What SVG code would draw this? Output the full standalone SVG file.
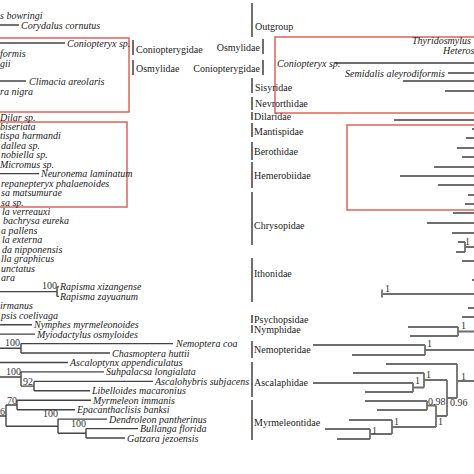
<svg xmlns="http://www.w3.org/2000/svg" width="474" height="474" viewBox="0 0 474 474">
<style>
.sp{font-family:"Liberation Serif","Times New Roman",serif;font-style:italic;font-size:10px;fill:#222}
.fam{font-family:"Liberation Serif","Times New Roman",serif;font-size:10px;fill:#222}
.bs{font-family:"Liberation Serif","Times New Roman",serif;font-size:10px;fill:#333}
.lt{stroke:#444;stroke-width:1.4;fill:none}
.rt{stroke:#6e6e6e;stroke-width:1.8;fill:none}
.bar{stroke:#333;stroke-width:1.4}
.box{fill:none;stroke:#e0625a;stroke-width:1.5}
</style>
<rect width="474" height="474" fill="#fff"/>

<g id="connectors-left">
<path class="lt" d="M0 25H19M0 43H65M0 81H26M0 173.6H39M0 291.6H57M57 286.9V296.4M57 286.9H59M57 296.4H59M0 324.7H32M0 334.1H35"/>
<path class="lt" d="M0 348.3H21M21 343.6V353M21 343.6H173M21 353H110M0 362.5H68"/>
<path class="lt" d="M0 377H21M21 371.9V386.1M21 371.9H104M21 386.1H34M34 381.4V390.8M34 381.4H153M34 390.8H90"/>
<path class="lt" d="M0 416H6M6 405V426.2M6 405H17M17 400.2V409.7M17 400.2H91M17 409.7H75M6 426.2H58M58 419.1V433.3M58 419.1H107M58 433.3H86M86 428.6V438M86 428.6H138M86 438H125"/>
</g>

<g id="connectors-right">
<path class="rt" d="M335 63H474M448 73H474M403 81H474M445 91H474M394 120H474"/>
<path class="rt" d="M472 129H474M466 138H474M457 148H474M462 157H474M434 167H474M400 176H474M438 185H474M468 195H474M465 204H474"/>
<path class="rt" d="M453 213H474M427 223H474M452 233H474M458 242H465M456 252H465M465 242V252M465 247H474M462 261H474M472 280H474"/>
<path class="rt" d="M382 289.5V297.5M383 294H474M468 308H474M462 317H474M408 327H458M410 336H458M458 327V336M458 331.5H474"/>
<path class="rt" d="M313 345H425M352 355H425M425 345V355M425 350H474"/>
<path class="rt" d="M386 364H457M353 373H424M313 383H413M365 392H413M413 383V392M413 387.5H424M424 373V387.5M424 380H447"/>
<path class="rt" d="M365 401H427M377 410H427M427 401V410M427 405.5H436M349 420H392M325 429H370M337 439H370M370 429V439M370 434H392M392 420V434M392 427H436M436 405.5V427M436 416H447M447 380V416M447 398H457M457 364V398M457 381H474"/>
</g>

<g id="boxes">
<rect class="box" x="-5" y="38" width="134" height="74"/>
<rect class="box" x="-5" y="122" width="132" height="85"/>
<rect class="box" x="275" y="37" width="205" height="76"/>
<rect class="box" x="347" y="125" width="133" height="85"/>
</g>

<g id="left-taxa">
<text class="sp" x="0" y="18.5">s bowringi</text>
<text class="sp" x="21" y="28.5">Corydalus cornutus</text>
<text class="sp" x="67" y="46.5">Coniopteryx sp.</text>
<text class="sp" x="0" y="56.5">formis</text>
<text class="sp" x="0" y="66.5">gii</text>
<text class="sp" x="29" y="84.5">Climacia areolaris</text>
<text class="sp" x="0" y="94.5">ra nigra</text>
<text class="sp" x="0" y="120.5">Dilar sp.</text>
<text class="sp" x="0" y="129.9">biseriata</text>
<text class="sp" x="0" y="139.4">tispa harmandi</text>
<text class="sp" x="1" y="148.8">dallea sp.</text>
<text class="sp" x="1" y="158.3">nobiella sp.</text>
<text class="sp" x="0" y="167.7">Micromus sp.</text>
<text class="sp" x="41" y="177.1">Neuronema laminatum</text>
<text class="sp" x="1" y="186.6">repanepteryx phalaenoides</text>
<text class="sp" x="1" y="196">sa matsumurae</text>
<text class="sp" x="1" y="205.5">sa sp.</text>
<text class="sp" x="2" y="214.9">la verreauxi</text>
<text class="sp" x="3" y="224.4">bachrysa eureka</text>
<text class="sp" x="1" y="233.8">a pallens</text>
<text class="sp" x="2" y="243.3">la externa</text>
<text class="sp" x="2" y="252.7">da nipponensis</text>
<text class="sp" x="1" y="262.1">lla graphicus</text>
<text class="sp" x="1" y="271.5">unctatus</text>
<text class="sp" x="1" y="281">ara</text>
<text class="sp" x="60" y="290.4">Rapisma xizangense</text>
<text class="sp" x="60" y="299.9">Rapisma zayuanum</text>
<text class="sp" x="0" y="309.3">irmanus</text>
<text class="sp" x="1" y="318.7">psis coelivaga</text>
<text class="sp" x="34" y="328.2">Nymphes myrmeleonoides</text>
<text class="sp" x="37" y="337.6">Myiodactylus osmyloides</text>
<text class="sp" x="176" y="347.1">Nemoptera coa</text>
<text class="sp" x="112" y="356.5">Chasmoptera huttii</text>
<text class="sp" x="70" y="366">Ascaloptynx appendiculatus</text>
<text class="sp" x="106" y="375.4">Suhpalacsa longialata</text>
<text class="sp" x="155" y="384.9">Ascalohybris subjacens</text>
<text class="sp" x="92" y="394.3">Libelloides macaronius</text>
<text class="sp" x="93" y="403.7">Myrmeleon immanis</text>
<text class="sp" x="77" y="413.2">Epacanthaclisis banksi</text>
<text class="sp" x="109" y="422.6">Dendroleon pantherinus</text>
<text class="sp" x="140" y="432.1">Bullanga florida</text>
<text class="sp" x="127" y="441.5">Gatzara jezoensis</text>
</g>

<g id="left-support">
<text class="bs" x="42" y="289">100</text>
<text class="bs" x="5" y="346">100</text>
<text class="bs" x="6" y="375">100</text>
<text class="bs" x="23" y="384.5">92</text>
<text class="bs" x="7" y="403.5">70</text>
<text class="bs" x="0" y="415">6</text>
<text class="bs" x="43" y="417">100</text>
<text class="bs" x="71" y="427">100</text>
</g>

<g id="right-taxa">
<text class="sp" x="412" y="43.5">Thyridosmylus</text>
<text class="sp" x="443" y="53.5">Heteros</text>
<text class="sp" x="277" y="66.5">Coniopteryx sp.</text>
<text class="sp" x="345" y="76.5">Semidalis aleyrodiformis</text>
</g>

<g id="right-support">
<text class="bs" x="465" y="245">1</text>
<text class="bs" x="385" y="292">1</text>
<text class="bs" x="461" y="329">1</text>
<text class="bs" x="427" y="347">1</text>
<text class="bs" x="415" y="384">1</text>
<text class="bs" x="426" y="378">1</text>
<text class="bs" x="428" y="405">0.98</text>
<text class="bs" x="450" y="406">0.96</text>
<text class="bs" x="461" y="380">1</text>
<text class="bs" x="438" y="425">1</text>
<text class="bs" x="394" y="425">1</text>
<text class="bs" x="372" y="434">1</text>
</g>

<g id="families">
<g id="f-outgroup"><line class="bar" x1="252" y1="3" x2="252" y2="37"/><text class="fam" x="255" y="29.5">Outgroup</text></g>
<g id="f-conio-left"><line class="bar" x1="133" y1="40" x2="133" y2="55"/><text class="fam" x="136" y="52.5">Coniopterygidae</text></g>
<g id="f-osmy-left"><line class="bar" x1="133" y1="60" x2="133" y2="75"/><text class="fam" x="136" y="71.5">Osmylidae</text></g>
<g id="f-osmy-right"><line class="bar" x1="263" y1="39" x2="263" y2="54"/><text class="fam" x="260" y="50.5" text-anchor="end">Osmylidae</text></g>
<g id="f-conio-right"><line class="bar" x1="263" y1="60" x2="263" y2="75"/><text class="fam" x="260" y="71.5" text-anchor="end">Coniopterygidae</text></g>
<g id="f-sisyridae"><line class="bar" x1="252" y1="78" x2="252" y2="93"/><text class="fam" x="255" y="90.5">Sisyridae</text></g>
<g id="f-nevrorthidae"><line class="bar" x1="252" y1="97" x2="252" y2="110"/><text class="fam" x="255" y="106.5">Nevrorthidae</text></g>
<g id="f-dilaridae"><line class="bar" x1="252" y1="112" x2="252" y2="120"/><text class="fam" x="254" y="119.5">Dilaridae</text></g>
<g id="f-mantispidae"><line class="bar" x1="252" y1="123" x2="252" y2="137"/><text class="fam" x="254" y="134.5">Mantispidae</text></g>
<g id="f-berothidae"><line class="bar" x1="252" y1="142" x2="252" y2="160"/><text class="fam" x="254" y="154.5">Berothidae</text></g>
<g id="f-hemerobiidae"><line class="bar" x1="252" y1="162" x2="252" y2="188"/><text class="fam" x="254" y="178.5">Hemerobiidae</text></g>
<g id="f-chrysopidae"><line class="bar" x1="252" y1="192" x2="252" y2="245"/><text class="fam" x="254" y="228.5">Chrysopidae</text></g>
<g id="f-ithonidae"><line class="bar" x1="252" y1="258" x2="252" y2="302"/><text class="fam" x="254" y="276.5">Ithonidae</text></g>
<g id="f-psychopsidae"><line class="bar" x1="252" y1="315" x2="252" y2="323"/><text class="fam" x="254" y="322.5">Psychopsidae</text></g>
<g id="f-nymphidae"><line class="bar" x1="252" y1="325" x2="252" y2="333"/><text class="fam" x="254" y="332.5">Nymphidae</text></g>
<g id="f-nemopteridae"><line class="bar" x1="252" y1="341" x2="252" y2="358"/><text class="fam" x="254" y="352.5">Nemopteridae</text></g>
<g id="f-ascalaphidae"><line class="bar" x1="252" y1="362" x2="252" y2="397"/><text class="fam" x="254" y="385.5">Ascalaphidae</text></g>
<g id="f-myrmeleontidae"><line class="bar" x1="252" y1="400" x2="252" y2="440"/><text class="fam" x="254" y="425.5">Myrmeleontidae</text></g>
</g>
</svg>
